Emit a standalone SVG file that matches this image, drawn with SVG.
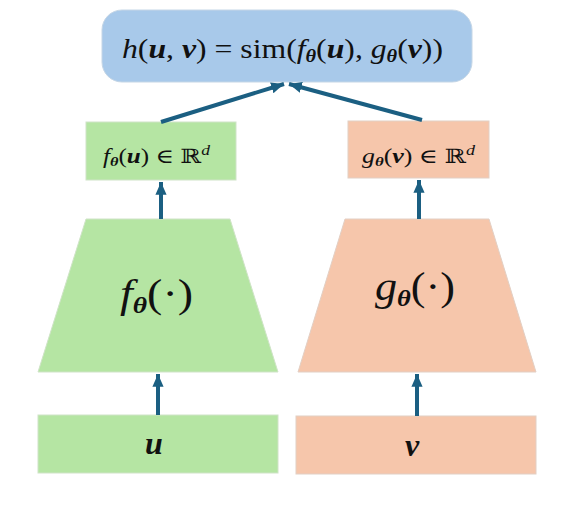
<svg xmlns="http://www.w3.org/2000/svg" width="584" height="506" viewBox="0 0 584 506">
<style>
.g{fill:#b5e5a3;stroke:#cfe3c7;stroke-width:1}
.o{fill:#f6c6ab;stroke:#e2cfc4;stroke-width:1}
.b{fill:#a8c9ea;stroke:#c5d6e6;stroke-width:1}
.t{font-family:"Liberation Serif","DejaVu Serif",serif;fill:#111}
.i{font-style:italic}
.bi{font-style:italic;font-weight:bold}
.c{stroke:#1b5f82;stroke-width:4;fill:none}
</style>
<defs>
<marker id="ah" markerWidth="4" markerHeight="4" refX="3.2" refY="2" orient="auto" markerUnits="strokeWidth">
<path d="M0,0.6 L3.2,2 L0,3.4 Z" fill="#1b5f82"/>
</marker>
</defs>
<rect width="584" height="506" fill="#fff"/>
<g id="top">
<rect class="b" x="102" y="10" width="370" height="72" rx="20"/>
<text class="t" x="122" y="58" font-size="28" textLength="321" lengthAdjust="spacingAndGlyphs"><tspan class="i">h</tspan>(<tspan class="bi">u</tspan>, <tspan class="bi">v</tspan>) = sim(<tspan class="i">f</tspan><tspan class="bi" font-size="18" dy="4">θ</tspan><tspan dy="-4">(</tspan><tspan class="bi">u</tspan>), <tspan class="i">g</tspan><tspan class="bi" font-size="18" dy="4">θ</tspan><tspan dy="-4">(</tspan><tspan class="bi">v</tspan>))</text>
</g>
<g id="fu">
<rect class="g" x="86" y="122" width="150" height="58"/>
<text class="t" x="103" y="163" font-size="20" textLength="107" lengthAdjust="spacingAndGlyphs"><tspan class="i">f</tspan><tspan class="bi" font-size="13" dy="3">θ</tspan><tspan dy="-3">(</tspan><tspan class="bi">u</tspan>) ∈ ℝ<tspan class="i" font-size="14" dy="-8">d</tspan></text>
</g>
<g id="gv">
<rect class="o" x="348" y="121" width="141" height="57"/>
<text class="t" x="362" y="163" font-size="20" textLength="113" lengthAdjust="spacingAndGlyphs"><tspan class="i">g</tspan><tspan class="bi" font-size="13" dy="3">θ</tspan><tspan dy="-3">(</tspan><tspan class="bi">v</tspan>) ∈ ℝ<tspan class="i" font-size="14" dy="-8">d</tspan></text>
</g>
<g id="f">
<polygon class="g" points="86,219 230,219 278,372 38,372"/>
<text class="t" x="120" y="307" font-size="40" textLength="73" lengthAdjust="spacingAndGlyphs"><tspan class="i">f</tspan><tspan class="bi" font-size="24" dy="6">θ</tspan><tspan dy="-6">(·)</tspan></text>
</g>
<g id="g">
<polygon class="o" points="345,219 489,219 536,372 298,372"/>
<text class="t" x="375" y="300" font-size="40" textLength="80" lengthAdjust="spacingAndGlyphs"><tspan class="i">g</tspan><tspan class="bi" font-size="24" dy="6">θ</tspan><tspan dy="-6">(·)</tspan></text>
</g>
<g id="u">
<rect class="g" x="38" y="415" width="240" height="58"/>
<text class="t bi" x="154" y="454" font-size="32" text-anchor="middle">u</text>
</g>
<g id="v">
<rect class="o" x="296" y="416" width="240" height="58"/>
<text class="t bi" x="412" y="456" font-size="32" text-anchor="middle">v</text>
</g>
<g id="connectors">
<line class="c" x1="161" y1="219" x2="161" y2="182" marker-end="url(#ah)"/>
<line class="c" x1="419" y1="219" x2="419" y2="180" marker-end="url(#ah)"/>
<line class="c" x1="158" y1="415" x2="158" y2="374" marker-end="url(#ah)"/>
<line class="c" x1="417" y1="416" x2="417" y2="374" marker-end="url(#ah)"/>
<line class="c" x1="161" y1="122" x2="284" y2="84" marker-end="url(#ah)"/>
<line class="c" x1="422" y1="120" x2="289" y2="84" marker-end="url(#ah)"/>
</g>
</svg>
